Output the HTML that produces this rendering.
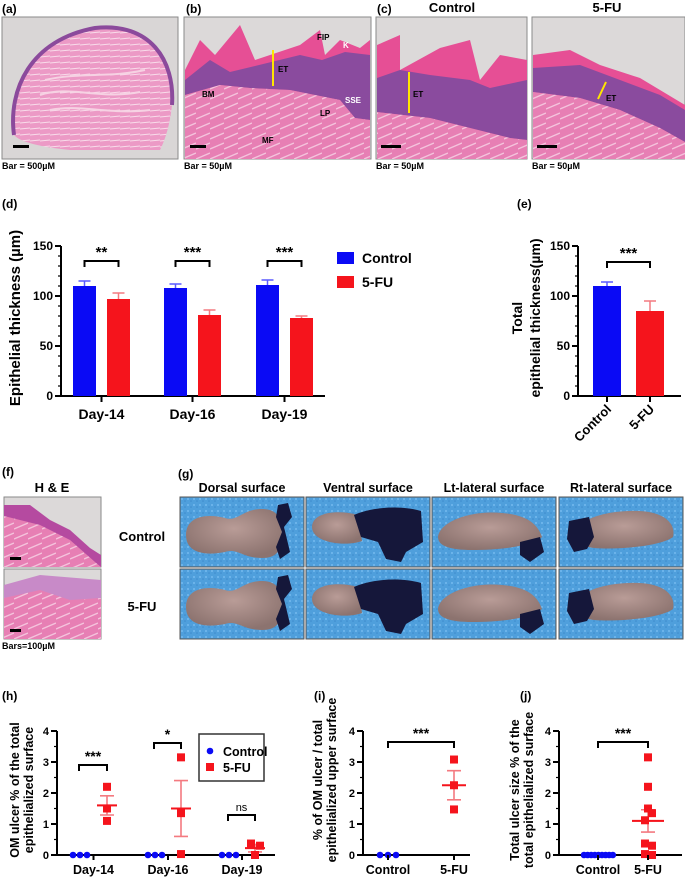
<!DOCTYPE html>
<html><head><meta charset="utf-8">
<style>
html,body{margin:0;padding:0;background:#fff;}
svg{display:block;font-family:"Liberation Sans",Arial,sans-serif;font-weight:bold;}
</style></head>
<body>
<svg id="fig" width="685" height="877" viewBox="0 0 685 877" xmlns="http://www.w3.org/2000/svg">
<defs>
<pattern id="blueTex" width="6" height="6" patternUnits="userSpaceOnUse">
<rect width="6" height="6" fill="#4f9fdc"/><circle cx="2" cy="2" r="1" fill="#74b9ee"/><circle cx="5" cy="4" r="0.8" fill="#3d8acb"/>
</pattern>
<pattern id="muscle" width="14" height="10" patternUnits="userSpaceOnUse">
<rect width="14" height="10" fill="#e77fb4"/><path d="M0,9 L14,3" stroke="#f4c3dc" stroke-width="1.4"/>
</pattern>
<pattern id="aTex" width="10" height="6" patternUnits="userSpaceOnUse">
<rect width="10" height="6" fill="#ec9ac6"/><path d="M0,3 L10,2" stroke="#f8dcea" stroke-width="1"/>
</pattern>
<radialGradient id="tg" cx="50%" cy="40%" r="60%"><stop offset="0" stop-color="#b99c97"/><stop offset="1" stop-color="#8c736f"/></radialGradient>
</defs>

<text x="2" y="13" font-size="12">(a)</text>
<text x="186" y="13" font-size="12">(b)</text>
<text x="377" y="13" font-size="12">(c)</text>
<text x="452" y="12" font-size="13" text-anchor="middle">Control</text>
<text x="607" y="12" font-size="13" text-anchor="middle">5-FU</text>

<g>
<rect x="2" y="17" width="176" height="142" fill="#d9d6d6" stroke="#8a8a8a"/>
<path d="M14,135 C8,90 30,40 95,28 C150,22 175,60 172,105 C170,125 165,140 160,150 L70,150 C40,147 20,142 14,135Z" fill="url(#aTex)"/>
<path d="M14,135 C8,90 30,40 95,28 C150,22 175,60 172,105" fill="none" stroke="#8b4a9c" stroke-width="4"/>
<path d="M40,95 C70,85 100,100 140,92 M50,110 C80,104 110,115 150,110 M45,80 C80,72 110,78 145,70" stroke="#f6d2e3" stroke-width="2" fill="none"/>
<rect x="13" y="145" width="16" height="3" fill="#000"/>
</g>
<text x="2" y="169" font-size="9">Bar = 500µM</text>

<g>
<rect x="184" y="17" width="187" height="142" fill="#dcd9d9" stroke="#8a8a8a"/>
<path d="M185,70 L200,40 L215,55 L240,25 L255,60 L300,45 L320,30 L325,55 L340,40 L360,48 L370,40 L370,159 L185,159Z" fill="#e64f95"/>
<path d="M185,80 L210,60 L230,72 L255,66 L300,55 L322,60 L345,52 L370,55 L370,120 L355,118 L340,100 L320,96 L290,90 L250,88 L220,85 L185,95Z" fill="#8a4b9e"/>
<path d="M185,95 L220,85 L250,88 L290,90 L320,96 L340,100 L355,118 L370,120 L370,159 L185,159Z" fill="url(#muscle)"/>
<line x1="273" y1="50" x2="273" y2="86" stroke="#ffe600" stroke-width="2"/>
<text x="278" y="72" font-size="8">ET</text><text x="202" y="97" font-size="8">BM</text>
<text x="317" y="40" font-size="8">FIP</text><text x="320" y="116" font-size="8">LP</text>
<text x="262" y="143" font-size="8">MF</text><text x="343" y="48" font-size="8" fill="#fff">K</text>
<text x="345" y="103" font-size="8" fill="#fff">SSE</text>
<rect x="190" y="145" width="16" height="3" fill="#000"/>
</g>
<text x="184" y="169" font-size="9">Bar = 50µM</text>

<g>
<rect x="376" y="17" width="151" height="142" fill="#dcd9d9" stroke="#8a8a8a"/>
<path d="M377,45 L400,35 L400,70 L440,48 L470,40 L480,80 L500,55 L527,60 L527,159 L377,159Z" fill="#e64f95"/>
<path d="M377,78 L400,70 L430,75 L470,80 L490,88 L527,80 L527,140 L510,138 L470,128 L430,118 L377,112Z" fill="#8a4b9e"/>
<path d="M377,112 L430,118 L470,128 L510,138 L527,140 L527,159 L377,159Z" fill="url(#muscle)"/>
<line x1="409" y1="72" x2="409" y2="113" stroke="#ffe600" stroke-width="2"/>
<text x="413" y="97" font-size="8">ET</text>
<rect x="381" y="145" width="20" height="3" fill="#000"/>
</g>
<text x="376" y="169" font-size="9">Bar = 50µM</text>

<g>
<rect x="532" y="17" width="153" height="142" fill="#dcd9d9" stroke="#8a8a8a"/>
<path d="M533,55 L570,50 L600,65 L640,78 L685,105 L685,159 L533,159Z" fill="#e64f95"/>
<path d="M533,68 L580,65 L620,80 L660,95 L685,110 L685,142 L660,128 L620,110 L580,98 L533,92Z" fill="#8a4b9e"/>
<path d="M533,92 L580,98 L620,110 L660,128 L685,142 L685,159 L533,159Z" fill="url(#muscle)"/>
<line x1="598" y1="99" x2="606" y2="82" stroke="#ffe600" stroke-width="2"/>
<text x="606" y="101" font-size="8">ET</text>
<rect x="537" y="145" width="20" height="3" fill="#000"/>
</g>
<text x="532" y="169" font-size="9">Bar = 50µM</text>

<text x="2" y="208" font-size="12">(d)</text>
<text x="517" y="208" font-size="12">(e)</text>
<g id="chartD"></g>
<g id="chartE"></g>

<text x="2" y="476" font-size="12">(f)</text>
<text x="52" y="492" font-size="13" text-anchor="middle">H &amp; E</text>
<g>
<rect x="4" y="497" width="97" height="70" fill="#dcd9d9" stroke="#8a8a8a"/>
<path d="M4,505 L30,505 L50,520 L70,530 L90,548 L101,555 L101,567 L4,567Z" fill="#b54aa0"/>
<path d="M4,516 L40,525 L70,540 L95,562 L101,567 L4,567Z" fill="url(#muscle)"/>
<rect x="10" y="557" width="11" height="3" fill="#000"/>
</g>
<g>
<rect x="4" y="569" width="97" height="70" fill="#dcd9d9" stroke="#8a8a8a"/>
<path d="M4,585 L40,575 L101,580 L101,639 L4,639Z" fill="#c88ac8"/>
<path d="M4,598 L40,590 L70,600 L101,598 L101,639 L4,639Z" fill="url(#muscle)"/>
<rect x="10" y="629" width="11" height="3" fill="#000"/>
</g>
<text x="2" y="649" font-size="9">Bars=100µM</text>

<text x="178" y="478" font-size="12">(g)</text>
<text x="242" y="492" font-size="12.5" text-anchor="middle">Dorsal surface</text>
<text x="368" y="492" font-size="12.5" text-anchor="middle">Ventral surface</text>
<text x="494" y="492" font-size="12.5" text-anchor="middle">Lt-lateral surface</text>
<text x="621" y="492" font-size="12.5" text-anchor="middle">Rt-lateral surface</text>
<text x="142" y="541" font-size="13" text-anchor="middle">Control</text>
<text x="142" y="611" font-size="13" text-anchor="middle">5-FU</text>
<g id="tongues"></g>

<text x="2" y="700" font-size="12">(h)</text>
<text x="314" y="700" font-size="12">(i)</text>
<text x="520" y="700" font-size="12">(j)</text>
<g id="chartH"></g>
<g id="chartI"></g>
<g id="chartJ"></g>
</svg>

<script>
const dDays = ["Day-14", "Day-16", "Day-19"];
const dControl = [110, 108, 111];
const dControlErr = [5, 4, 5];
const dFU = [97, 81, 78];
const dFUErr = [6, 5, 2];
const dSig = ["**", "***", "***"];
const dTicks = [0, 50, 100, 150];
const eGroups = ["Control", "5-FU"];
const eValues = [110, 85];
const eErr = [4, 10];
const hDays = ["Day-14", "Day-16", "Day-19"];
const hControl = [[0, 0, 0], [0, 0, 0], [0, 0, 0]];
const hFU = [[2.2, 1.5, 1.1], [3.15, 1.35, 0.03], [0.37, 0.3, 0.0]];
const hMean = [1.6, 1.5, 0.22];
const hSem = [0.31, 0.9, 0.12];
const hSig = ["***", "*", "ns"];
const iControl = [0, 0, 0];
const iFU = [3.08, 2.25, 1.47];
const iMean = 2.25;
const iSem = 0.47;
const jControl = [0, 0, 0, 0, 0, 0, 0, 0, 0];
const jFU = [3.15, 2.2, 1.5, 1.35, 1.12, 0.37, 0.3, 0.03, 0.0];
const jMean = 1.1;
const jSem = 0.36;
const pctTicks = [0, 1, 2, 3, 4];

const NS = "http://www.w3.org/2000/svg";
function mk(parent, tag, attrs, txt) {
  const el = document.createElementNS(NS, tag);
  for (const k in attrs) el.setAttribute(k, attrs[k]);
  if (txt !== undefined) el.textContent = txt;
  parent.appendChild(el);
  return el;
}
const BLUE = "#0a0af5", RED = "#f5141c", LRED = "#f47a80", LBLUE = "#5a5aff";

function yAxis(g, ax, yf, ticks, minorStep, maxV, fs) {
  const ln = mk(g, "line", {x1: ax, y1: yf(maxV), x2: ax, y2: yf(0), stroke: "#000", "stroke-width": 2});
  
  
  if (minorStep) {
    for (let v = 0; v <= maxV + 1e-9; v += minorStep) {
      mk(g, "line", {x1: ax - 3, y1: yf(v), x2: ax, y2: yf(v), stroke: "#000", "stroke-width": 1.2});
    }
  }
  ticks.forEach(t => {
    mk(g, "line", {x1: ax - 6, y1: yf(t), x2: ax, y2: yf(t), stroke: "#000", "stroke-width": 2});
    const tl = mk(g, "text", {x: ax - 8, y: yf(t) + 4, "font-size": fs, "text-anchor": "end"}, String(t));
    
    
  });
}
function bracket(g, x1, x2, y, leg, label, fs, normal) {
  const p = mk(g, "path", {d: `M${x1},${y + leg} L${x1},${y} L${x2},${y} L${x2},${y + leg}`, fill: "none", stroke: "#000", "stroke-width": 2});
  
  
  const t = mk(g, "text", {x: (x1 + x2) / 2, y: y - 4, "font-size": fs, "text-anchor": "middle", "font-weight": normal ? "normal" : "bold"}, label);
  
  
}

(function () {
  const g = document.getElementById("chartD");
  const ax = 61, y0 = 396, y150 = 246;
  const yf = v => y0 - v * (y0 - y150) / 150;
  const groupStart = [73, 164, 256], bw = 23, gap = 11;
  yAxis(g, ax, yf, dTicks, 10, 150, 12);
  const xl = mk(g, "line", {x1: ax - 1, y1: y0, x2: 325, y2: y0, stroke: "#000", "stroke-width": 2});
  
  
  dDays.forEach((d, i) => {
    const xc = groupStart[i], xf = xc + bw + gap;
    const b1 = mk(g, "rect", {x: xc, y: yf(dControl[i]), width: bw, height: y0 - yf(dControl[i]), fill: BLUE});
    
    
    mk(g, "path", {d: `M${xc + bw / 2},${yf(dControl[i])} V${yf(dControl[i] + dControlErr[i])} M${xc + bw / 2 - 6},${yf(dControl[i] + dControlErr[i])} H${xc + bw / 2 + 6}`, stroke: LBLUE, "stroke-width": 1.5, fill: "none"});
    const b2 = mk(g, "rect", {x: xf, y: yf(dFU[i]), width: bw, height: y0 - yf(dFU[i]), fill: RED});
    
    
    mk(g, "path", {d: `M${xf + bw / 2},${yf(dFU[i])} V${yf(dFU[i] + dFUErr[i])} M${xf + bw / 2 - 6},${yf(dFU[i] + dFUErr[i])} H${xf + bw / 2 + 6}`, stroke: LRED, "stroke-width": 1.5, fill: "none"});
    const mid = (xc + xf + bw) / 2;
    mk(g, "line", {x1: mid, y1: y0, x2: mid, y2: y0 + 6, stroke: "#000", "stroke-width": 2});
    const lab = mk(g, "text", {x: mid, y: 419, "font-size": 14, "text-anchor": "middle"}, d);
    
    
    bracket(g, xc + bw / 2, xf + bw / 2, 261, 6, dSig[i], 15);
  });
  const yt = mk(g, "text", {x: 0, y: 0, "font-size": 15, "text-anchor": "middle", transform: "translate(20,318) rotate(-90)"}, "Epithelial thickness (µm)");
  
  
  const l1 = mk(g, "rect", {x: 337, y: 252, width: 17, height: 12, fill: BLUE});
  
  
  const lt1 = mk(g, "text", {x: 362, y: 263, "font-size": 14}, "Control");
  
  
  const l2 = mk(g, "rect", {x: 337, y: 276, width: 17, height: 12, fill: RED});
  
  
  const lt2 = mk(g, "text", {x: 362, y: 287, "font-size": 14}, "5-FU");
  
  
})();

(function () {
  const g = document.getElementById("chartE");
  const ax = 578, y0 = 396, y150 = 246;
  const yf = v => y0 - v * (y0 - y150) / 150;
  const xs = [593, 636], bw = 28;
  yAxis(g, ax, yf, dTicks, 10, 150, 12);
  const xl = mk(g, "line", {x1: ax - 1, y1: y0, x2: 681, y2: y0, stroke: "#000", "stroke-width": 2});
  
  
  const cols = [BLUE, RED], ecols = [LBLUE, LRED];
  eGroups.forEach((n, i) => {
    const x = xs[i];
    const b = mk(g, "rect", {x: x, y: yf(eValues[i]), width: bw, height: y0 - yf(eValues[i]), fill: cols[i]});
    
    
    mk(g, "path", {d: `M${x + bw / 2},${yf(eValues[i])} V${yf(eValues[i] + eErr[i])} M${x + bw / 2 - 6},${yf(eValues[i] + eErr[i])} H${x + bw / 2 + 6}`, stroke: ecols[i], "stroke-width": 1.5, fill: "none"});
    mk(g, "line", {x1: x + bw / 2, y1: y0, x2: x + bw / 2, y2: y0 + 6, stroke: "#000", "stroke-width": 2});
    const t = mk(g, "text", {x: 0, y: 0, "font-size": 13, "text-anchor": "end", transform: `translate(${x + bw / 2 + 5},${y0 + 14}) rotate(-45)`}, n);
    
    
  });
  bracket(g, xs[0] + bw / 2, xs[1] + bw / 2, 262, 6, "***", 15);
  const t1 = mk(g, "text", {x: 0, y: 0, "font-size": 14, "text-anchor": "middle", transform: "translate(522,318) rotate(-90)"}, "Total");
  
  
  const t2 = mk(g, "text", {x: 0, y: 0, "font-size": 14, "text-anchor": "middle", transform: "translate(540,318) rotate(-90)"}, "epithelial thickness(µm)");
  
  
})();

(function () {
  const g = document.getElementById("tongues");
  const colX = [180, 306, 432, 559], rowY = [497, 569], w = 124, h = 70;
  const names = ["dorsal", "ventral", "lt-lateral", "rt-lateral"], rows = ["control", "5fu"];
  const shapes = [
    {t: "M6,38 C6,20 25,16 45,21 C58,25 62,12 82,12 C98,12 102,22 102,38 C102,52 98,61 82,61 C62,61 58,51 45,55 C25,59 6,56 6,38Z", d: "M98,8 L108,6 L112,20 L104,30 L110,55 L100,62 L96,50 L102,35 L96,20Z"},
    {t: "M6,30 C6,16 30,12 52,18 L56,44 C40,50 6,46 6,30Z", d: "M48,18 C65,10 95,8 115,14 L117,45 L100,55 L95,65 L80,62 L72,45 L55,40Z"},
    {t: "M6,40 C8,24 40,13 70,16 C96,18 106,28 110,40 C100,49 70,53 40,53 C18,53 6,49 6,40Z", d: "M88,45 L108,40 L112,55 L98,65 L88,58Z"},
    {t: "M16,38 C18,21 50,13 80,14 C106,15 117,27 114,40 C102,49 60,53 35,51 C20,49 16,44 16,38Z", d: "M10,24 L30,20 L35,40 L28,52 L15,55 L8,42Z"}
  ];
  rows.forEach((r, ri) => colX.forEach((x, ci) => {
    const cell = mk(g, "g", {transform: `translate(${x},${rowY[ri]})`});
    
    
    mk(cell, "rect", {x: 0, y: 0, width: w, height: h, fill: "url(#blueTex)", stroke: "#555", "stroke-width": 1});
    mk(cell, "path", {d: shapes[ci].t, fill: "url(#tg)"});
    mk(cell, "path", {d: shapes[ci].d, fill: "#15173a"});
  }));
})();

function pctChart(g, ax, xEnd, fs) {
  const yf = v => 855 - v * 31;
  yAxis(g, ax, yf, pctTicks, 0.5, 4, fs);
  const xl = mk(g, "line", {x1: ax - 1, y1: 855, x2: xEnd, y2: 855, stroke: "#000", "stroke-width": 2});
  
  
  return yf;
}
function dot(g, x, y) {
  const c = mk(g, "circle", {cx: x, cy: y, r: 3.3, fill: BLUE});
  
  
}
function sq(g, x, y) {
  const s = mk(g, "rect", {x: x - 4, y: y - 4, width: 8, height: 8, fill: RED});
  
  
}
function meanSem(g, xc, yf, m, s, hw) {
  const p = mk(g, "path", {d: `M${xc - hw},${yf(m)} H${xc + hw} M${xc},${yf(m + s)} V${yf(Math.max(m - s, 0))} M${xc - 7},${yf(m + s)} H${xc + 7} M${xc - 7},${yf(Math.max(m - s, 0))} H${xc + 7}`, stroke: LRED, "stroke-width": 1.6, fill: "none"});
  
  
  mk(g, "line", {x1: xc - hw, y1: yf(m), x2: xc + hw, y2: yf(m), stroke: RED, "stroke-width": 2});
}
function xLabel(g, x, t) {
  mk(g, "line", {x1: x, y1: 855, x2: x, y2: 860, stroke: "#000", "stroke-width": 2});
  const l = mk(g, "text", {x: x, y: 874, "font-size": 12.5, "text-anchor": "middle"}, t);
  
  
}
function title2(g, x1, x2, yc, a, b, fs) {
  const t1 = mk(g, "text", {x: 0, y: 0, "font-size": fs, "text-anchor": "middle", transform: `translate(${x1},${yc}) rotate(-90)`}, a);
  
  
  const t2 = mk(g, "text", {x: 0, y: 0, "font-size": fs, "text-anchor": "middle", transform: `translate(${x2},${yc}) rotate(-90)`}, b);
  
  
}

(function () {
  const g = document.getElementById("chartH");
  const yf = pctChart(g, 57, 275, 11);
  const ctrlX = [73, 148, 222], fuX = [107, 181, 255];
  const jitter = [[0, 0, 0], [0, 0, 0], [-4, 5, 0]];
  hDays.forEach((d, i) => {
    hControl[i].forEach((v, k) => dot(g, ctrlX[i] + k * 7, yf(v)));
    meanSem(g, fuX[i], yf, hMean[i], hSem[i], 10);
    hFU[i].forEach((v, k) => sq(g, fuX[i] + jitter[i][k], yf(v)));
    xLabel(g, (ctrlX[i] + 7 + fuX[i]) / 2, d);
    const by = i === 1 ? 743 : (i === 0 ? 765 : 815);
    bracket(g, ctrlX[i] + 6, fuX[i], by, 6, hSig[i], i === 2 ? 11 : 14, i === 2);
  });
  const box = mk(g, "rect", {x: 199, y: 734, width: 65, height: 47, fill: "#fff", stroke: "#333", "stroke-width": 1.5});
  
  
  dot(g, 210, 751);
  const l1 = mk(g, "text", {x: 223, y: 756, "font-size": 12.5}, "Control");
  
  
  sq(g, 210, 767);
  const l2 = mk(g, "text", {x: 223, y: 772, "font-size": 12.5}, "5-FU");
  
  
  title2(g, 19, 33, 790, "OM ulcer % of the total", "epithelialized surface", 12.5);
})();

(function () {
  const g = document.getElementById("chartI");
  const yf = pctChart(g, 363, 470, 11);
  const cx = 388, fx = 454;
  iControl.forEach((v, k) => dot(g, cx - 8 + k * 8, yf(v)));
  meanSem(g, fx, yf, iMean, iSem, 12);
  iFU.forEach(v => sq(g, fx, yf(v)));
  xLabel(g, cx, "Control");
  xLabel(g, fx, "5-FU");
  bracket(g, cx, fx, 742, 6, "***", 14);
  title2(g, 322, 336, 780, "% of OM ulcer / total", "epithelialized upper surface", 12.5);
})();

(function () {
  const g = document.getElementById("chartJ");
  const yf = pctChart(g, 559, 682, 11);
  const cx = 598, fx = 648;
  const jit = [0, 0, 0, 4, -3, -3, 4, -3, 4];
  jControl.forEach((v, k) => dot(g, 584 + k * 3.6, yf(v)));
  meanSem(g, fx, yf, jMean, jSem, 16);
  jFU.forEach((v, k) => sq(g, fx + jit[k], yf(v)));
  xLabel(g, cx, "Control");
  xLabel(g, fx, "5-FU");
  bracket(g, cx, fx, 742, 6, "***", 14);
  title2(g, 519, 533, 790, "Total ulcer size % of the", "total epithelialized surface", 12.5);
})();
</script>
</body></html>
